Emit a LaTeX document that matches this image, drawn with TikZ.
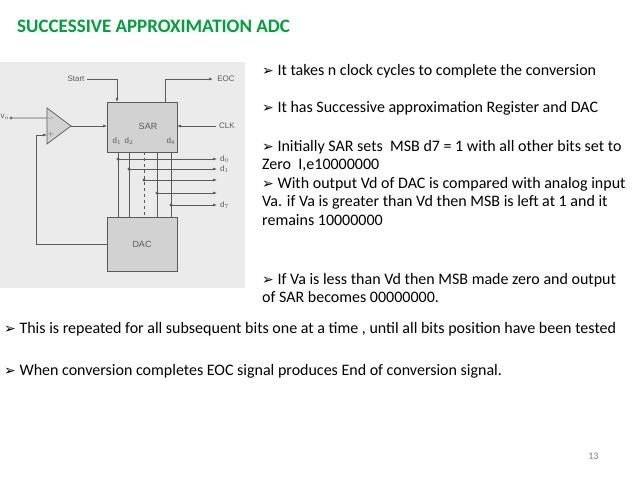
\documentclass[tikz,border=0pt]{standalone}
\usepackage{fontspec}
\setmainfont{Carlito}
\newfontfamily\arialf{Liberation Sans}
\newfontfamily\dvs{DejaVu Sans}
\newcommand{\bl}{{\dvs\fontsize{14}{12}\selectfont ➢}\ }
\usetikzlibrary{arrows.meta}
\definecolor{ttl}{RGB}{0,160,60}
\definecolor{dg}{RGB}{90,90,90}
\definecolor{bx}{RGB}{210,210,210}
\begin{document}
\begin{tikzpicture}[x=1pt,y=-1pt,
  blk/.style={draw=dg,fill=bx,line width=0.7pt},
  wire/.style={draw=dg,line width=0.6pt},
  arr/.style={wire,-{Latex[length=4pt,width=3pt]}},
  dot/.style={circle,fill=dg,inner sep=1.1pt},
  lbl/.style={font=\arialf\fontsize{8}{9}\selectfont,text=dg,inner sep=1pt},
  bul/.style={anchor=north west,font=\fontsize{16}{18.5}\selectfont,inner sep=0pt,align=left},
  ]
\useasboundingbox (0,0) rectangle (638,478);
\fill[white] (0,0) rectangle (638,478);
\node[anchor=west,font=\bfseries\fontsize{19}{22}\selectfont,text=ttl,inner sep=0] (title) at (17,26) {SUCCESSIVE APPROXIMATION ADC};
% diagram background
\fill[black!8] (0,62) rectangle (245,288);
% blocks
\node[blk,minimum width=70pt,minimum height=50pt] (sar) at (142,127) {};
\node[lbl,font=\arialf\fontsize{9}{10}\selectfont] (sart) at (148,126) {SAR};
\node[blk,minimum width=70pt,minimum height=54pt] (dac) at (142,244) {};
\node[lbl,font=\arialf\fontsize{9}{10}\selectfont] (dact) at (142,244) {DAC};
\draw[blk] (47,108) -- (71,126) -- (47,144) -- cycle;
\coordinate (cmpo) at (71,126);
\node[lbl] at (51,119) {$-$};
\node[lbl] at (51,135) {$+$};
% d labels
\node[lbl] (d1) at (117,141) {d$_1$};
\node[lbl] (d2) at (129,141) {d$_2$};
\node[lbl] (d8) at (171,141) {d$_8$};
% inputs
\node[lbl] (vin) at (5,117) {v$_a$};
\draw[wire] (11,118) circle (1.2pt) -- (47,118);
\node[lbl] (start) at (76,79) {Start};
\draw[arr] (87,79) -- (117,79) -- (117,102);
\node[lbl] (eoc) at (226,79) {EOC};
\draw[arr] (165,102) -- (165,79) -- (213,79);
\node[lbl] (clk) at (227,126) {CLK};
\draw[arr] (216,126) -- (177,126);
\draw[arr] (cmpo) -- (107,126);
\draw[arr] (107,244) -- (36,244) -- (36,135) -- (47,135);
% vertical data lines
\foreach \x in {118,129,157,171} \draw[wire] (\x,152) -- (\x,217);
\draw[wire,dashed] (144,152) -- (144,217);
% outputs
\foreach \x/\y in {118/159,129/169,144/180,157/193,171/205}{
  \draw[arr] (\x,\y) -- (217,\y);
  \node[dot] at (\x,\y) {};
}
\node[lbl,anchor=west] (o0) at (219,159) {d$_0$};
\node[lbl,anchor=west] (o1) at (219,169) {d$_1$};
\node[lbl,anchor=west] (o7) at (219,205) {d$_7$};
% text
\node[bul] (b1) at (262,64) {\bl It takes n clock cycles to complete the conversion};
\node[bul] (b2) at (262,101) {\bl It has Successive approximation Register and DAC};
\node[bul] (b3) at (262,140) {\bl Initially SAR sets \ MSB d7 = 1 with all other bits set to\\Zero \ I,e10000000};
\node[bul] (b4) at (262,177) {\bl With output Vd of DAC is compared with analog input\\Va. if Va is greater than Vd then MSB is left at 1 and it\\remains 10000000};
\node[bul] (b5) at (262,273) {\bl If Va is less than Vd then MSB made zero and output\\of SAR becomes 00000000.};
\node[bul] (b6) at (4,322) {\bl This is repeated for all subsequent bits one at a time , until all bits position have been tested};
\node[bul] (b7) at (4,364) {\bl When conversion completes EOC signal produces End of conversion signal.};
\node[font=\fontsize{10}{11}\selectfont,text=gray,anchor=east] (pg) at (602,456) {13};
\end{tikzpicture}
\end{document}
